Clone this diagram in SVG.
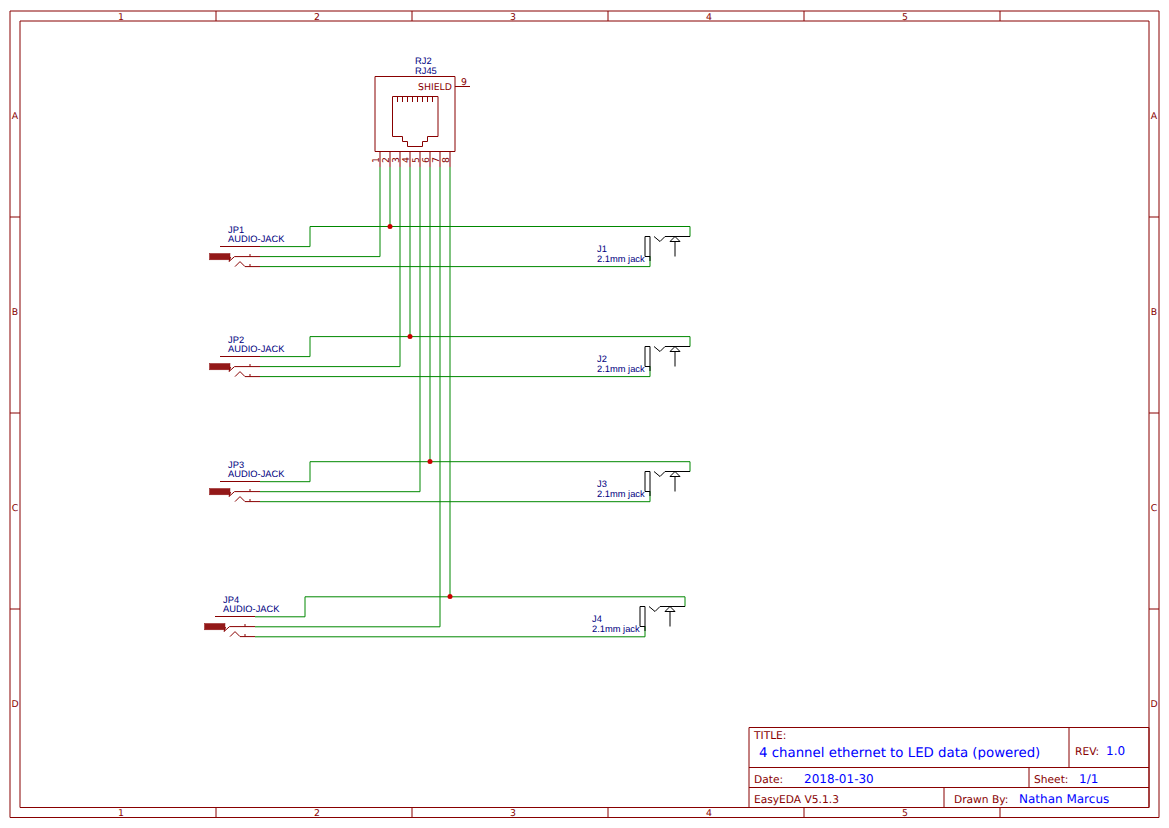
<svg xmlns="http://www.w3.org/2000/svg" width="1169" height="828" viewBox="0 0 1169 828">
<style>
text{font-family:"DejaVu Sans",sans-serif;text-rendering:geometricPrecision}
.f{fill:none;stroke:#880000;stroke-width:1}
.z{font-size:9.33px;fill:#880000;text-anchor:middle}
.t{font-size:10.67px;fill:#880000}
.v{fill:#0000ff}
.p{fill:none;stroke:#880000;stroke-width:1}
.k{fill:none;stroke:#000;stroke-width:1}
.w{fill:none;stroke:#008800;stroke-width:1}
.d{fill:#cc0000}
.l{font-family:"Liberation Sans",Arial,sans-serif;font-size:9.33px;fill:#000080}
.n{font-size:9.33px;fill:#880000}
</style>
<defs>
<g id="audio">
<path class="p" d="M220 246.5H260"/>
<rect x="209.5" y="253.5" width="20.5" height="6.3" fill="#880000" stroke="#880000" stroke-width="0.5" opacity="0.9"/>
<path class="p" d="M230.5 257L229 261.5L234.5 256.6H260M235 266.6L240 261.6L245 266.6H260M250 254V256.5M250 264V266.5"/>
</g>
<g id="jack">
<path class="k" d="M645 236.5H650V256.5H645ZM650 256.5V261M654 236.5L660 241.5L665 236.5H690M670 241.5H680L675 236.5ZM675 241.5V256.5"/>
</g>
</defs>
<g id="frame">
<path class="f" d="M10 11H1159V817.5H10ZM20 21H1149V807.5H20Z"/>
<path class="f" d="M216 11V21M412 11V21M608 11V21M804 11V21M1000 11V21M216 807.5V817.5M412 807.5V817.5M608 807.5V817.5M804 807.5V817.5M1000 807.5V817.5M10 217H20M10 413H20M10 609H20M1149 217H1159M1149 413H1159M1149 609H1159"/>
<g class="z">
<text x="121" y="19.5">1</text><text x="317" y="19.5">2</text><text x="513" y="19.5">3</text><text x="709" y="19.5">4</text><text x="905" y="19.5">5</text>
<text x="121" y="816">1</text><text x="317" y="816">2</text><text x="513" y="816">3</text><text x="709" y="816">4</text><text x="905" y="816">5</text>
<text x="15" y="119">A</text><text x="15" y="315">B</text><text x="15" y="511">C</text><text x="15" y="707">D</text>
<text x="1154" y="119">A</text><text x="1154" y="315">B</text><text x="1154" y="511">C</text><text x="1154" y="707">D</text>
</g>
</g>
<g id="title-block">
<path class="f" d="M749 727.5H1149V807.5H749ZM749 767.5H1149M749 787.5H1149M1069 727.5V767.5M1029 767.5V787.5M944 787.5V807.5"/>
<text class="t" x="754" y="739">TITLE:</text>
<text class="v" x="759" y="757" font-size="13.33">4 channel ethernet to LED data (powered)</text>
<text class="t" x="1075" y="754.5">REV:</text>
<text class="v" x="1106" y="754.5" font-size="12">1.0</text>
<text class="t" x="754" y="782.5">Date:</text>
<text class="v" x="804" y="782.5" font-size="12">2018-01-30</text>
<text class="t" x="1034" y="782.5">Sheet:</text>
<text class="v" x="1079" y="782.5" font-size="12">1/1</text>
<text class="t" x="754" y="802.5">EasyEDA V5.1.3</text>
<text class="t" x="954" y="802.5">Drawn By:</text>
<text class="v" x="1019" y="802.5" font-size="12">Nathan Marcus</text>
</g>
<g id="connectors">
<path class="w" d="M260 246.6H310V226.5H690V236.5M260 256.6H380V167M260 266.6H650V256"/>
<path class="w" d="M260 356.6H310V336.6H690V346.5M260 366.6H400V167M260 376.6H650V366"/>
<path class="w" d="M260 481.7H310V461.7H690V471.5M260 491.7H420V167M260 501.7H650V491"/>
<path class="w" d="M255 616.8H305V596.8H685V606.5M255 626.8H440V167M255 636.8H645V626"/>
<path class="w" d="M390 167V226.5M410 167V336.5M430 167V461.5M450 167V596.5"/>
<circle class="d" cx="390" cy="226.5" r="2.5"/><circle class="d" cx="410" cy="336.5" r="2.5"/><circle class="d" cx="430" cy="461.5" r="2.5"/><circle class="d" cx="450" cy="596.5" r="2.5"/>
</g>
<g id="RJ2">
<path class="p" d="M375 76.5H455V151.5H375ZM455 86.5H470M392.5 96.5H438V136.5H427.5V141.5H422.5V146.5H407.5V141.5H402.5V136.5H392.5ZM397.5 97V102M402.5 97V102M407.5 97V102M412.5 97V102M417.5 97V102M422.5 97V102M427.5 97V102M432.5 97V102M380 151.5V167M390 151.5V167M400 151.5V167M410 151.5V167M420 151.5V167M430 151.5V167M440 151.5V167M450 151.5V167"/>
<text class="l" x="415" y="64">RJ2</text>
<text class="l" x="415" y="73.5">RJ45</text>
<text class="n" x="452" y="90" text-anchor="end">SHIELD</text>
<text class="n" x="461" y="85">9</text>
<text class="n" transform="translate(379,160) rotate(-90)" text-anchor="middle">1</text>
<text class="n" transform="translate(389,160) rotate(-90)" text-anchor="middle">2</text>
<text class="n" transform="translate(399,160) rotate(-90)" text-anchor="middle">3</text>
<text class="n" transform="translate(409,160) rotate(-90)" text-anchor="middle">4</text>
<text class="n" transform="translate(419,160) rotate(-90)" text-anchor="middle">5</text>
<text class="n" transform="translate(429,160) rotate(-90)" text-anchor="middle">6</text>
<text class="n" transform="translate(439,160) rotate(-90)" text-anchor="middle">7</text>
<text class="n" transform="translate(449,160) rotate(-90)" text-anchor="middle">8</text>
</g>
<g id="JP1"><use href="#audio"/><text class="l" x="228" y="232.7">JP1</text><text class="l" x="228" y="241.8">AUDIO-JACK</text></g>
<g id="JP2"><use href="#audio" y="110"/><text class="l" x="228" y="342.7">JP2</text><text class="l" x="228" y="351.8">AUDIO-JACK</text></g>
<g id="JP3"><use href="#audio" y="235"/><text class="l" x="228" y="467.7">JP3</text><text class="l" x="228" y="476.8">AUDIO-JACK</text></g>
<g id="JP4"><use href="#audio" x="-5" y="370"/><text class="l" x="223" y="602.7">JP4</text><text class="l" x="223" y="611.8">AUDIO-JACK</text></g>
<g id="J1"><use href="#jack"/><text class="l" x="597" y="252">J1</text><text class="l" x="597" y="261.5">2.1mm jack</text></g>
<g id="J2"><use href="#jack" y="110"/><text class="l" x="597" y="362">J2</text><text class="l" x="597" y="371.5">2.1mm jack</text></g>
<g id="J3"><use href="#jack" y="235"/><text class="l" x="597" y="487">J3</text><text class="l" x="597" y="496.5">2.1mm jack</text></g>
<g id="J4"><use href="#jack" x="-5" y="370"/><text class="l" x="592" y="622">J4</text><text class="l" x="592" y="631.5">2.1mm jack</text></g>
</svg>
